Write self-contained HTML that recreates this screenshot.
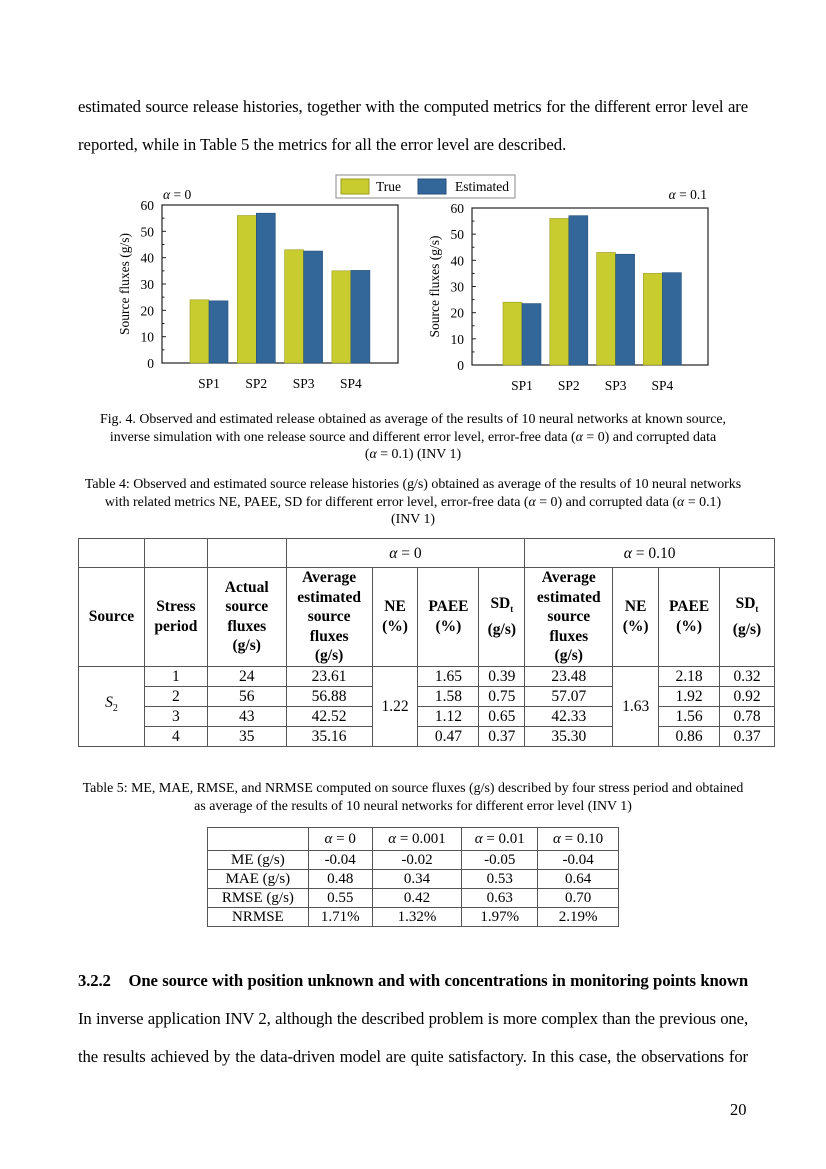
<!DOCTYPE html>
<html><head><meta charset="utf-8">
<style>
body{margin:0;background:#fff;}
#page{position:relative;width:826px;height:1169px;background:#fff;font-family:"Liberation Serif",serif;color:#000;overflow:hidden;}
.line{position:absolute;left:78px;width:670px;font-size:16.7px;white-space:nowrap;}
.just{text-align:justify;text-align-last:justify;letter-spacing:-0.12px;}
.cap{position:absolute;left:40px;width:746px;text-align:center;font-size:13.9px;line-height:17.5px;white-space:nowrap;}
table{border-collapse:collapse;position:absolute;font-family:"Liberation Serif",serif;}
td{border:1px solid #555;text-align:center;padding:0;}
#t4 td{font-size:15.5px;line-height:19px;}
#t4 .h{font-weight:bold;line-height:19.5px;}
#t5 td{font-size:15px;}
i{font-family:"Liberation Serif",serif;}
</style></head><body>
<div id="page">
<div class="line just" style="top:97px">estimated source release histories, together with the computed metrics for the different error level are</div>
<div class="line" style="top:135px">reported, while in Table 5 the metrics for all the error level are described.</div>

<svg id="fig" width="826" height="410" style="position:absolute;left:0;top:0" font-family="Liberation Serif, serif"></svg>

<div class="cap" style="top:411px">Fig. 4. Observed and estimated release obtained as average of the results of 10 neural networks at known source,<br>inverse simulation with one release source and different error level, error-free data (<i>α</i> = 0) and corrupted data<br>(<i>α</i> = 0.1) (INV 1)</div>
<div class="cap" style="top:476px">Table 4: Observed and estimated source release histories (g/s) obtained as average of the results of 10 neural networks<br>with related metrics NE, PAEE, SD for different error level, error-free data (<i>α</i> = 0) and corrupted data (<i>α</i> = 0.1)<br>(INV 1)</div>

<table id="t4" style="left:78px;top:538px;width:697px;">
<colgroup><col style="width:66px"><col style="width:63px"><col style="width:79px"><col style="width:86px"><col style="width:46px"><col style="width:61px"><col style="width:46px"><col style="width:88px"><col style="width:46px"><col style="width:61px"><col style="width:55px"></colgroup>
<tr style="height:29px"><td></td><td></td><td></td><td colspan="4"><i>α</i> = 0</td><td colspan="4"><i>α</i> = 0.10</td></tr>
<tr style="height:96px"><td class="h">Source</td><td class="h">Stress<br>period</td><td class="h">Actual<br>source<br>fluxes<br>(g/s)</td><td class="h">Average<br>estimated<br>source<br>fluxes<br>(g/s)</td><td class="h">NE<br>(%)</td><td class="h">PAEE<br>(%)</td><td class="h">SD<sub style="font-size:9px">t</sub><br>(g/s)</td><td class="h">Average<br>estimated<br>source<br>fluxes<br>(g/s)</td><td class="h">NE<br>(%)</td><td class="h">PAEE<br>(%)</td><td class="h">SD<sub style="font-size:9px">t</sub><br>(g/s)</td></tr>
<tr style="height:20px"><td rowspan="4"><i>S</i><sub style="font-size:10px">2</sub></td><td>1</td><td>24</td><td>23.61</td><td rowspan="4">1.22</td><td>1.65</td><td>0.39</td><td>23.48</td><td rowspan="4">1.63</td><td>2.18</td><td>0.32</td></tr>
<tr style="height:20px"><td>2</td><td>56</td><td>56.88</td><td>1.58</td><td>0.75</td><td>57.07</td><td>1.92</td><td>0.92</td></tr>
<tr style="height:20px"><td>3</td><td>43</td><td>42.52</td><td>1.12</td><td>0.65</td><td>42.33</td><td>1.56</td><td>0.78</td></tr>
<tr style="height:20px"><td>4</td><td>35</td><td>35.16</td><td>0.47</td><td>0.37</td><td>35.30</td><td>0.86</td><td>0.37</td></tr>
</table>

<div class="cap" style="top:780px">Table 5: ME, MAE, RMSE, and NRMSE computed on source fluxes (g/s) described by four stress period and obtained<br>as average of the results of 10 neural networks for different error level (INV 1)</div>

<table id="t5" style="left:207px;top:827px;width:412px;">
<colgroup><col style="width:101px"><col style="width:64px"><col style="width:90px"><col style="width:76px"><col style="width:81px"></colgroup>
<tr style="height:23px"><td></td><td><i>α</i> = 0</td><td><i>α</i> = 0.001</td><td><i>α</i> = 0.01</td><td><i>α</i> = 0.10</td></tr>
<tr style="height:19px"><td>ME (g/s)</td><td>-0.04</td><td>-0.02</td><td>-0.05</td><td>-0.04</td></tr>
<tr style="height:19px"><td>MAE (g/s)</td><td>0.48</td><td>0.34</td><td>0.53</td><td>0.64</td></tr>
<tr style="height:19px"><td>RMSE (g/s)</td><td>0.55</td><td>0.42</td><td>0.63</td><td>0.70</td></tr>
<tr style="height:19px"><td>NRMSE</td><td>1.71%</td><td>1.32%</td><td>1.97%</td><td>2.19%</td></tr>
</table>

<div class="line just" style="top:971px;font-weight:bold">3.2.2&nbsp;&nbsp;&nbsp;&nbsp;One source with position unknown and with concentrations in monitoring points known</div>
<div class="line just" style="top:1009px">In inverse application INV 2, although the described problem is more complex than the previous one,</div>
<div class="line just" style="top:1047px">the results achieved by the data-driven model are quite satisfactory. In this case, the observations for</div>
<div style="position:absolute;left:730px;top:1100px;font-size:16.5px">20</div>
</div>
<script>
const categories=["SP1","SP2","SP3","SP4"];
const trueA0=[24,56,43,35];
const estA0=[23.61,56.88,42.52,35.16];
const trueA1=[24,56,43,35];
const estA1=[23.48,57.07,42.33,35.30];
const yTicks=[0,10,20,30,40,50,60];
const NS="http://www.w3.org/2000/svg";
const svg=document.getElementById('fig');
function mk(t,a,p){const e=document.createElementNS(NS,t);for(const k in a)e.setAttribute(k,a[k]);(p||svg).appendChild(e);return e;}
function chart(cfg,tv,ev,name){
  const g=mk('g',{});
  
  
  const y=v=>cfg.y0-(v/60)*(cfg.y0-cfg.y1);
  const cx=i=>cfg.c0+i*cfg.step;
  mk('rect',{x:cfg.x0,y:cfg.y1,width:cfg.x2-cfg.x0,height:cfg.y0-cfg.y1,fill:'none',stroke:'#222','stroke-width':1.2},g);
  yTicks.forEach(t=>{
    mk('line',{x1:cfg.x0,x2:cfg.x0+4,y1:y(t),y2:y(t),stroke:'#222'},g);
    if(t<60) mk('line',{x1:cfg.x0,x2:cfg.x0+2.5,y1:y(t+5),y2:y(t+5),stroke:'#222'},g);
    const tx=mk('text',{x:cfg.x0-8,y:y(t)+5,'text-anchor':'end','font-size':13.5},g);tx.textContent=t;
    
    
  });
  categories.forEach((c,i)=>{
    const b1=mk('rect',{x:cx(i)-19,y:y(tv[i]),width:19,height:y(0)-y(tv[i]),fill:'#c8cc2e',stroke:'#9a9c20','stroke-width':0.6},g);
    
    
    const b2=mk('rect',{x:cx(i),y:y(ev[i]),width:19,height:y(0)-y(ev[i]),fill:'#336699',stroke:'#24507a','stroke-width':0.6},g);
    
    
    const l=mk('text',{x:cx(i),y:cfg.y0+25,'text-anchor':'middle','font-size':13.5},g);l.textContent=c;
    
    
  });
  const yt=mk('text',{x:0,y:0,'text-anchor':'middle','font-size':13.5,transform:`translate(${cfg.yl},${(cfg.y0+cfg.y1)/2}) rotate(-90)`},g);
  yt.textContent='Source fluxes (g/s)';
  
  
  const at=mk('text',{x:cfg.ax,y:199,'text-anchor':cfg.aa,'font-size':13.5},g);
  at.innerHTML='<tspan font-style="italic">α</tspan> = '+cfg.alpha;
  
  
}
chart({x0:162,x2:398,y0:363,y1:205,c0:209,step:47.3,yl:129,ax:163,aa:'start',alpha:'0'},trueA0,estA0,'chart-alpha-0');
chart({x0:472,x2:708,y0:365,y1:208,c0:522,step:46.8,yl:439,ax:707,aa:'end',alpha:'0.1'},trueA1,estA1,'chart-alpha-0-1');
const lg=mk('g',{});


mk('rect',{x:336,y:175,width:179,height:23,fill:'#fff',stroke:'#888'},lg);
mk('rect',{x:341,y:179,width:28,height:15,fill:'#c8cc2e',stroke:'#9a9c20'},lg);
const lt=mk('text',{x:376,y:191,'font-size':13.5},lg);lt.textContent='True';


mk('rect',{x:418,y:179,width:28,height:15,fill:'#336699',stroke:'#24507a'},lg);
const le=mk('text',{x:455,y:191,'font-size':13.5},lg);le.textContent='Estimated';


</script>
</body></html>
